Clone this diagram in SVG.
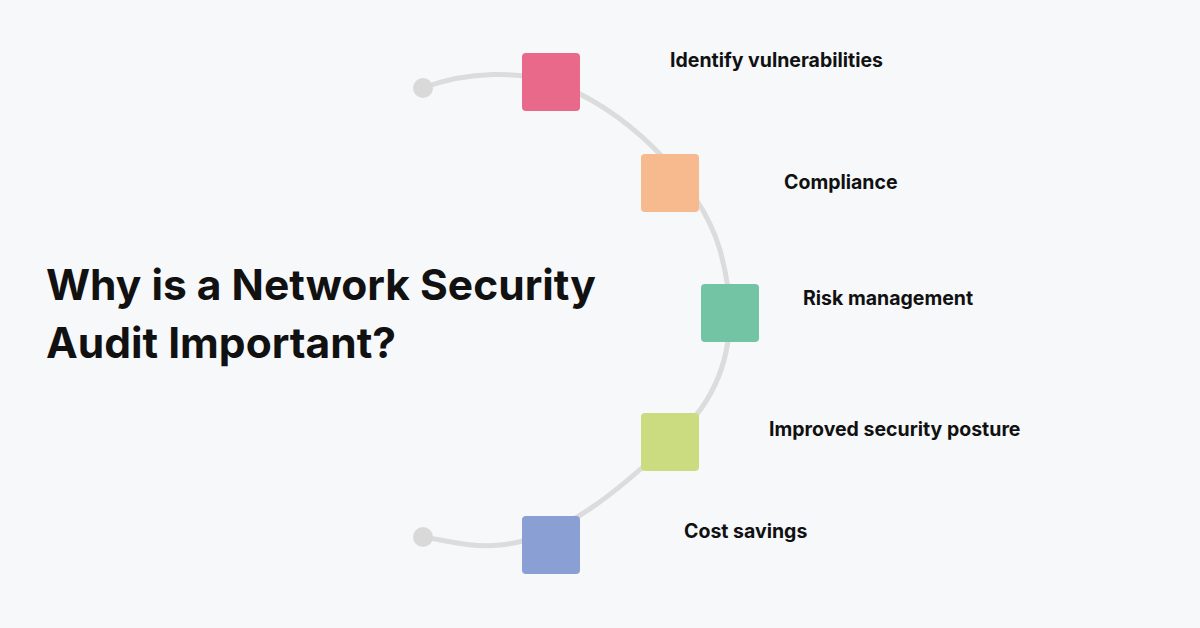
<svg xmlns="http://www.w3.org/2000/svg" width="1200" height="628" viewBox="0 0 1200 628">
<style>
.t{font-family:Inter,"Liberation Sans",sans-serif;font-weight:700;fill:#111}
.l{font-size:19.5px}
</style>
<rect width="1200" height="628" fill="#f6f8fa"/>
<g id="connectors">
<path d="M423,88 C470,70 520,72 551,82 C620,104 700,180 720,250 C745,340 720,400 670,442 C620,490 560,540 500,545 C470,548 445,540 423,537" fill="none" stroke="#dcdcdc" stroke-width="5"/>
<circle cx="423" cy="88" r="10" fill="#d9d9d9"/>
<circle cx="423" cy="537" r="10" fill="#d9d9d9"/>
</g>
<text class="t" x="46" y="300" font-size="42.5">Why is a Network Security</text>
<text class="t" x="46" y="358" font-size="42.5">Audit Important?</text>
<g id="n1"><rect x="522" y="53" width="58" height="58" rx="4" fill="#e8698a"/><text class="t l" x="670" y="67">Identify vulnerabilities</text></g>
<g id="n2"><rect x="641" y="154" width="58" height="58" rx="4" fill="#f7b98e"/><text class="t l" x="784" y="189">Compliance</text></g>
<g id="n3"><rect x="701" y="284" width="58" height="58" rx="4" fill="#72c4a4"/><text class="t l" x="803" y="305">Risk management</text></g>
<g id="n4"><rect x="641" y="413" width="58" height="58" rx="4" fill="#cbdc80"/><text class="t l" x="769" y="436">Improved security posture</text></g>
<g id="n5"><rect x="522" y="516" width="58" height="58" rx="4" fill="#8a9fd4"/><text class="t l" x="684" y="538">Cost savings</text></g>
</svg>
